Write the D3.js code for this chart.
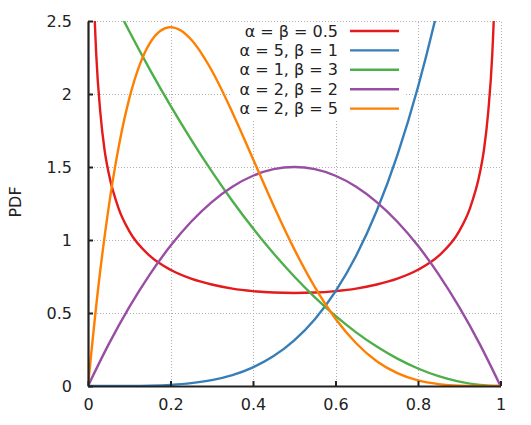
<!DOCTYPE html>
<html><head><meta charset="utf-8">
<script src="https://cdn.jsdelivr.net/npm/d3@7"></script>
<style>body{margin:0;background:#fff}svg{display:block;font-family:"DejaVu Sans",sans-serif}</style>
</head><body><svg id="c" width="531" height="425"></svg>
<script>
// ---- data ----
const xTicks = [0, 0.2, 0.4, 0.6, 0.8, 1];
const xTickLabels = ["0", "0.2", "0.4", "0.6", "0.8", "1"];
const yTicks = [0, 0.5, 1, 1.5, 2, 2.5];
const yTickLabels = ["0", "0.5", "1", "1.5", "2", "2.5"];
const seriesNames = ["α = β = 0.5", "α = 5, β = 1", "α = 1, β = 3", "α = 2, β = 2", "α = 2, β = 5"];
const seriesColors = ["#e41a1c", "#377eb8", "#4daf4a", "#984ea3", "#ff7f00"];

const xStep = [0,0.05,0.1,0.15,0.2,0.25,0.3,0.35,0.4,0.45,0.5,0.55,0.6,0.65,0.7,0.75,0.8,0.85,0.9,0.95,1];
const redX = [0.005,0.01,0.015,0.02,0.03,0.04,0.05,0.075,0.1,0.15,0.2,0.25,0.3,0.35,0.4,0.45,0.5,0.55,0.6,0.65,0.7,0.75,0.8,0.85,0.9,0.925,0.95,0.96,0.97,0.98,0.985,0.99,0.995];
const redY = [4.51,3.20,2.62,2.27,1.87,1.62,1.46,1.21,1.061,0.891,0.796,0.735,0.695,0.667,0.650,0.640,0.637,0.640,0.650,0.667,0.695,0.735,0.796,0.891,1.061,1.21,1.46,1.62,1.87,2.27,2.62,3.20,4.51];
const blueY = [0,0.00003,0.0005,0.0025,0.008,0.0195,0.0405,0.075,0.128,0.205,0.3125,0.4575,0.648,0.8925,1.2005,1.582,2.048,2.610,3.2805,4.07,5];
const greenY = [3,2.7075,2.43,2.1675,1.92,1.6875,1.47,1.2675,1.08,0.9075,0.75,0.6075,0.48,0.3675,0.27,0.1875,0.12,0.0675,0.03,0.0075,0];
const purpleY = [0,0.285,0.54,0.765,0.96,1.125,1.26,1.365,1.44,1.485,1.5,1.485,1.44,1.365,1.26,1.125,0.96,0.765,0.54,0.285,0];
const orangeX = [0,0.025,0.05,0.075,0.1,0.125,0.15,0.175,0.2,0.225,0.25,0.3,0.35,0.4,0.45,0.5,0.55,0.6,0.65,0.7,0.75,0.8,0.85,0.9,0.95,1];
const orangeY = [0,0.678,1.222,1.647,1.968,2.198,2.349,2.432,2.458,2.435,2.373,2.161,1.874,1.555,1.235,0.9375,0.677,0.461,0.293,0.170,0.088,0.038,0.013,0.0027,0.0002,0];

const series = [
  {x: redX, y: redY},
  {x: xStep, y: blueY},
  {x: xStep, y: greenY},
  {x: xStep, y: purpleY},
  {x: orangeX, y: orangeY}
];

// ---- drawing ----
const svg = d3.select("#c");
const L = 88, R = 500.5, T = 21, B = 386;
const x = d3.scaleLinear().domain([0, 1]).range([L, R]);
const y = d3.scaleLinear().domain([0, 2.5]).range([B, T]);

svg.append("defs").append("clipPath").attr("id", "clip")
  .append("rect").attr("x", L).attr("y", T).attr("width", R - L).attr("height", B - T);

// grid
const grid = svg.append("g").attr("stroke", "#b0b0b0").attr("stroke-width", 1).attr("stroke-dasharray", "1,2");
grid.selectAll(".gx").data(xTicks.filter(d => d > 0)).enter().append("line")
  .attr("x1", d => Math.round(x(d)) + 0.5).attr("x2", d => Math.round(x(d)) + 0.5).attr("y1", B).attr("y2", T);
grid.selectAll(".gy").data(yTicks.filter(d => d > 0)).enter().append("line")
  .attr("y1", d => Math.round(y(d)) + 0.5).attr("y2", d => Math.round(y(d)) + 0.5).attr("x1", L).attr("x2", R);

// legend background (opaque key)
svg.append("rect").attr("x", 232).attr("y", T + 1).attr("width", 173).attr("height", 97).attr("fill", "#fff");

// curves
const line = d3.line().curve(d3.curveMonotoneX);
const curves = svg.append("g").attr("clip-path", "url(#clip)");
series.forEach((s, i) => {
  curves.append("path")
    .attr("d", line(s.x.map((xv, j) => [x(xv), y(s.y[j])])))
    .attr("fill", "none").attr("stroke", seriesColors[i]).attr("stroke-width", 2.4)
    .attr("stroke-linejoin", "round");
});

// axes
const ax = svg.append("g").attr("class", "axis");
const xAxis = d3.axisBottom(x).tickValues(xTicks).tickFormat((d, i) => xTickLabels[i]).tickSizeInner(-5).tickSizeOuter(0).tickPadding(13);
const yAxis = d3.axisLeft(y).tickValues(yTicks).tickFormat((d, i) => yTickLabels[i]).tickSizeInner(-5).tickSizeOuter(0).tickPadding(16);
const gx = svg.append("g").attr("transform", `translate(0,${B})`).call(xAxis);
const gy = svg.append("g").attr("transform", `translate(${L},0)`).call(yAxis);
[gx, gy].forEach(g => {
  g.select(".domain").attr("stroke", "#222").attr("stroke-width", 2.2);
  g.selectAll(".tick line").attr("stroke", "#222").attr("stroke-width", 2);
  g.selectAll(".tick text").attr("fill", "#222").attr("font-size", 16).attr("font-family", "DejaVu Sans");
});
gx.selectAll(".tick text").attr("dy", "0.71em");

// y label
svg.append("text").attr("transform", "translate(21,202) rotate(-90)")
  .attr("text-anchor", "middle").attr("font-size", 16).attr("fill", "#222").text("PDF");

// legend
const lg = svg.append("g");
seriesNames.forEach((n, i) => {
  const cy = 31 + i * 19.4;
  lg.append("text").attr("x", 338).attr("y", cy).attr("dy", "0.35em").attr("text-anchor", "end")
    .attr("font-size", 16).attr("fill", "#222").text(n);
  lg.append("line").attr("x1", 350).attr("x2", 399).attr("y1", cy).attr("y2", cy)
    .attr("stroke", seriesColors[i]).attr("stroke-width", 2.4);
});
</script></body></html>
